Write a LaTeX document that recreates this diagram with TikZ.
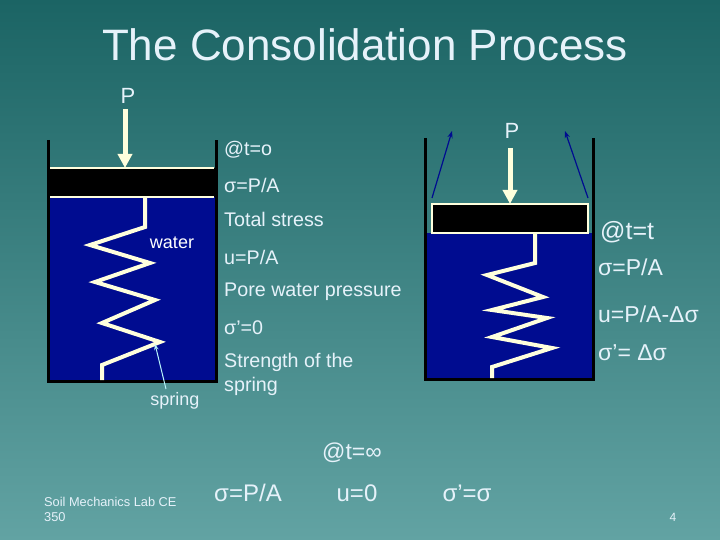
\documentclass[tikz,border=0pt]{standalone}
\usepackage{fontspec}
\setmainfont{Liberation Sans}
\usetikzlibrary{arrows.meta}
\begin{document}
\begin{tikzpicture}[x=1pt,y=-1pt,
  lbl/.style={text=txt,font=\fontsize{19.7}{24}\selectfont,anchor=west,inner sep=0},
  rl/.style={text=txt,font=\fontsize{23}{25}\selectfont,anchor=west,inner sep=0},
  big/.style={text=txt,font=\fontsize{24}{26}\selectfont,inner sep=0},
  wall/.style={draw=black,line width=3pt},
  spr/.style={draw=cream,line width=4pt,line join=miter},
  parr/.style={draw=cream,line width=5pt,-{Triangle[width=14pt,length=14pt]}},
  barr/.style={draw=navy,line width=1.2pt,-{Stealth[length=7pt]}}]
\definecolor{txt}{HTML}{E6F2FA}
\definecolor{cream}{HTML}{FFFFDD}
\definecolor{navy}{HTML}{000C90}
\definecolor{water}{HTML}{000C90}
\definecolor{bgtop}{HTML}{1B6464}
\definecolor{bgbot}{HTML}{62A3A3}
\shade[top color=bgtop,bottom color=bgbot] (0,0) rectangle (720,540);
\useasboundingbox (0,0) rectangle (720,540);
\node[text=txt,inner sep=0,font=\fontsize{44}{48}\selectfont] (title) at (365,45) {The Consolidation Process};
% left container
\fill[water] (48,197) rectangle (216,380);
\fill[black] (48,168) rectangle (216,197);
\draw[cream,line width=2pt] (50,168) -- (214,168) (50,197) -- (214,197);
\draw[wall] (48,140) -- (48,381) -- (216,381) -- (216,140);
\draw[spr] (145,197) -- (145,227) -- (90,245) -- (150,263) -- (95,282) -- (155,300) -- (102,323) -- (160,342) -- (102,365) -- (102,380);
\coordinate (pl0) at (125,109);
\coordinate (pl1) at (125,168);
\draw[parr] (pl0) -- (pl1);
\node[text=txt,font=\fontsize{22}{24}\selectfont,inner sep=0] (P1) at (128,96) {P};
\node[text=white,font=\fontsize{18}{20}\selectfont,inner sep=0] (water) at (172,243) {water};
\node[text=txt,font=\fontsize{18}{20}\selectfont,inner sep=0] (spring) at (175,401) {spring};
\coordinate (sp) at (155,344);
\draw[draw=txt!80!cyan,line width=1pt,-{Stealth[length=6pt]}] (166,389) -- (sp);
% right container
\fill[water] (425,233) rectangle (593,378);
\draw[fill=black,draw=cream,line width=2pt] (432,204) rectangle (588,233);
\draw[wall] (425,138) -- (425,379) -- (593,379) -- (593,138);
\draw[spr] (535,233) -- (535,263) -- (487,275) -- (543,297) -- (492,310) -- (547,318) -- (492,337) -- (552,348) -- (492,367) -- (492,378);
\coordinate (pr0) at (510,148);
\coordinate (pr1) at (510,204);
\draw[parr] (pr0) -- (pr1);
\node[text=txt,font=\fontsize{22}{24}\selectfont,inner sep=0] (P2) at (512,131) {P};
\coordinate (a1) at (432,198); \coordinate (a2) at (452,131);
\coordinate (b1) at (588,198); \coordinate (b2) at (565,131);
\draw[barr] (a1) -- (a2);
\draw[barr] (b1) -- (b2);
% middle labels
\node[lbl] (t0) at (224,150) {@t=o};
\node[lbl] (s0) at (224,185) {σ=P/A};
\node[lbl] (ts) at (224,219) {Total stress};
\node[lbl] (u0) at (224,257) {u=P/A};
\node[lbl] (pw) at (224,292) {Pore water pressure};
\node[lbl] (e0) at (224,328) {σ’=0};
\node[lbl,align=left,anchor=north west] (st) at (224,353) {Strength of the\\spring};
% right labels
\node[rl,font=\fontsize{25}{28}\selectfont] (tt) at (600,232) {@t=t};
\node[rl] (s1) at (598,267) {σ=P/A};
\node[rl] (u1) at (598,314) {u=P/A-Δσ};
\node[rl] (e1) at (598,353) {σ’= Δσ};
% bottom
\node[big,font=\fontsize{23}{26}\selectfont] (ti) at (352,453) {@t=∞};
\node[big] (s2) at (248,493) {σ=P/A};
\node[big] (u2) at (357,493) {u=0};
\node[big] (e2) at (467,493) {σ’=σ};
\node[text=txt,font=\fontsize{12.8}{15}\selectfont,align=left,anchor=north west,inner sep=0] (foot) at (44,497) {Soil Mechanics Lab CE\\350};
\node[text=txt,font=\fontsize{12}{14}\selectfont,inner sep=0] (pg) at (673,517) {4};
\end{tikzpicture}
\end{document}
